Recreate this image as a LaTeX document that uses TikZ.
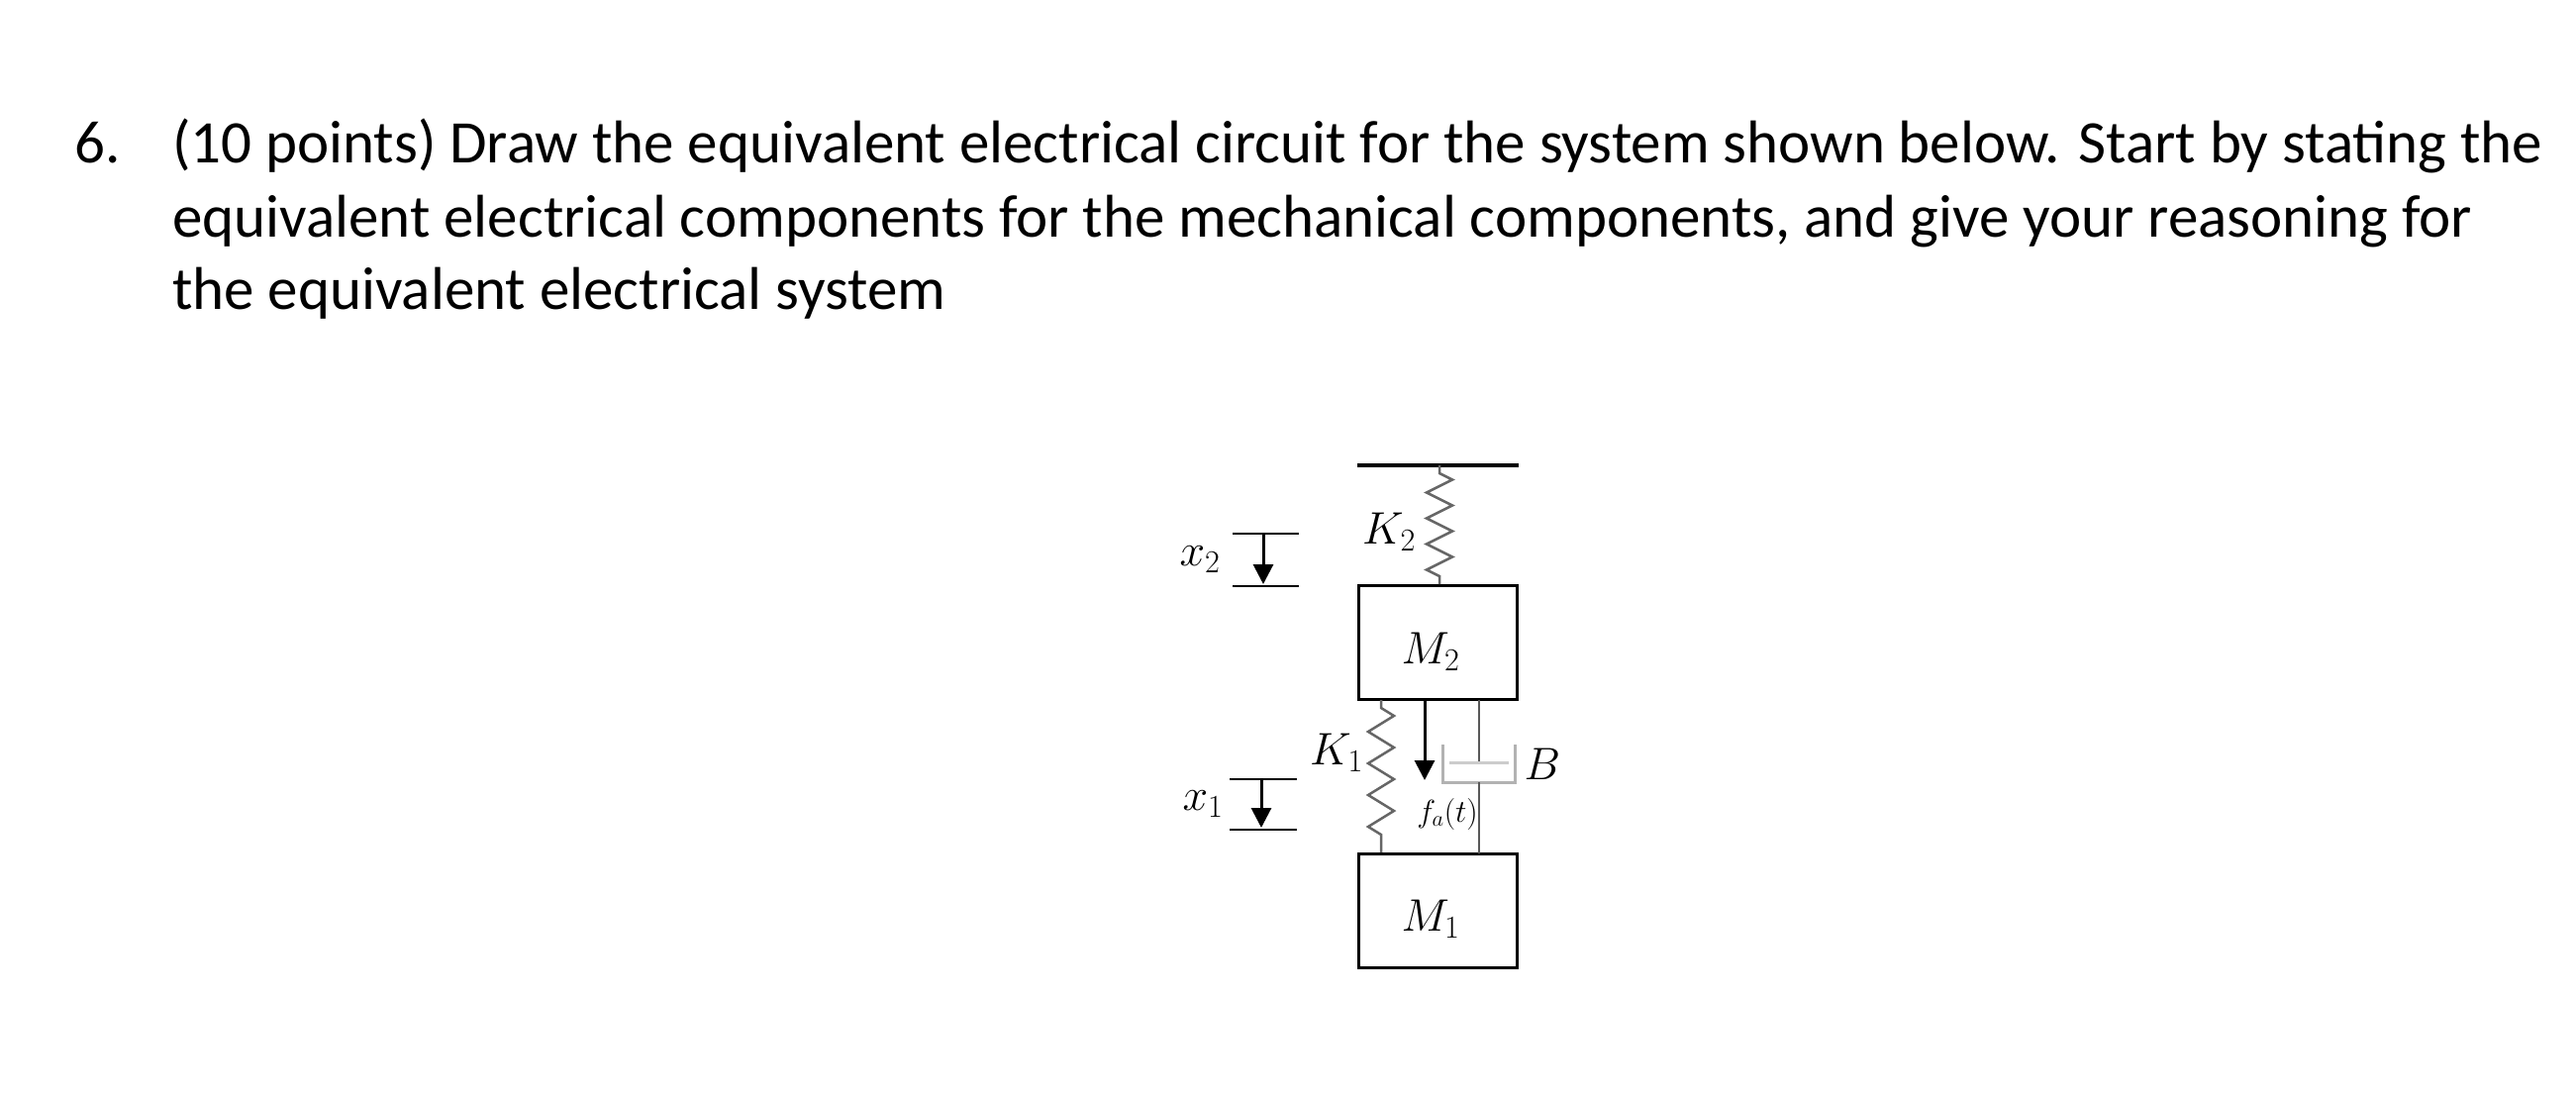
\documentclass[tikz,border=0pt]{standalone}
\usepackage{fix-cm}
\usepackage{fontspec}
\setmainfont{Carlito}
\usetikzlibrary{decorations.pathmorphing,arrows.meta}
\begin{document}
\begin{tikzpicture}[x=1pt,y=-1pt,
  qtext/.style={anchor=base west,inner sep=0pt,font=\fontsize{61}{70}\selectfont},
  lbl/.style={inner sep=0pt,font=\fontsize{46}{52}\selectfont},
  mass/.style={draw,line width=3pt,minimum width=160pt,minimum height=115pt,inner sep=0pt},
  springy/.style={draw=gray!80!black,line width=2.5pt,decorate,decoration={zigzag,segment length=26pt,amplitude=13pt,pre length=8pt,post length=8pt}},
  rod/.style={draw=gray!70!black,line width=2.5pt},
  arr/.style={line width=3pt,-{Triangle[width=20pt,length=20pt]}},
  bar/.style={draw,line width=2.5pt}]
\useasboundingbox (0,0) rectangle (2602,1108);
\node[qtext] (n6) at (75,164) {6.};
\node[qtext] (l1) at (174,164) {(10 points) Draw the equivalent electrical circuit for the system shown below. Start by stating the};
\node[qtext] (l2) at (174,239) {equivalent electrical components for the mechanical components, and give your reasoning for};
\node[qtext] (l3) at (174,312) {the equivalent electrical system};
% ground
\coordinate (g1) at (1371,470); \coordinate (g2) at (1534,470);
\draw[line width=3.5pt] (g1) -- (g2);
\node[mass] (M2) at (1452,649) {};
\node[lbl] (M2l) at (1445,658) {$M_2$};
\node[mass] (M1) at (1452,920) {};
\node[lbl] (M1l) at (1445,928) {$M_1$};
\coordinate (k2t) at (1454,470);
\draw[springy] (k2t) -- (M2.north -| k2t);
\node[lbl] (K2) at (1403,537) {$K_2$};
\coordinate (k1t) at (1395,707);
\draw[springy,decoration={segment length=32pt}] (k1t) -- (M1.north -| k1t);
\node[lbl] (K1) at (1350,760) {$K_1$};
% force
\coordinate (ft) at (1439,707); \coordinate (fb) at (1439,788);
\draw[arr] (ft) -- (fb);
\node[lbl,font=\fontsize{32}{36}\selectfont] (fa) at (1462,822) {$f_a(t)$};
% dashpot
\coordinate (d1) at (1494,707); \coordinate (d2) at (1494,770);
\coordinate (d3) at (1494,790); \coordinate (d4) at (1494,862);
\draw[rod] (d1) -- (d2);
\draw[draw=gray!40,line width=3pt] (1464,770) -- (1524,770);
\draw[draw=gray!60,line width=3pt] (1457,752) -- (1457,790) -- (1530,790) -- (1530,752);
\draw[rod] (d3) -- (d4);
\node[lbl] (B) at (1558,772) {$B$};
% x2
\node[lbl] (x2) at (1212,565) {$x_2$};
\draw[bar] (1245,539) -- (1312,539);
\draw[bar] (1245,592) -- (1312,592);
\coordinate (x2t) at (1276,539); \coordinate (x2b) at (1276,590);
\draw[arr] (x2t) -- (x2b);
% x1
\node[lbl] (x1) at (1215,812) {$x_1$};
\draw[bar] (1242,787) -- (1310,787);
\draw[bar] (1242,838) -- (1310,838);
\coordinate (x1t) at (1274,787); \coordinate (x1b) at (1274,836);
\draw[arr] (x1t) -- (x1b);
\end{tikzpicture}
\end{document}
